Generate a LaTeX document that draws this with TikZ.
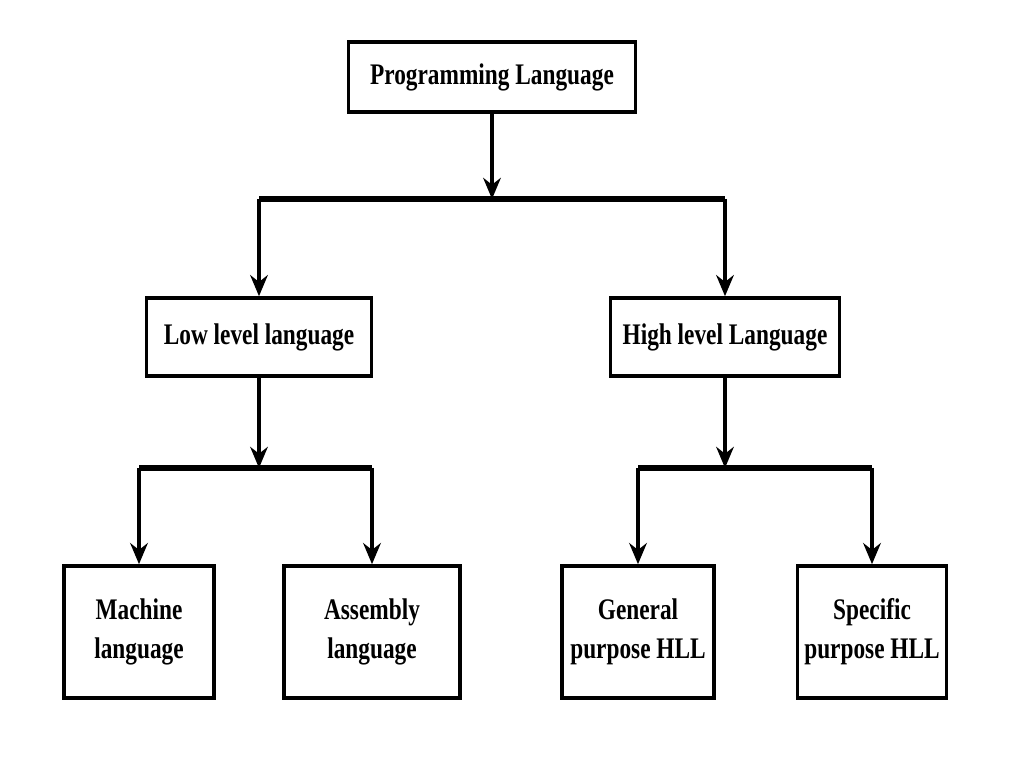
\documentclass[tikz,border=0pt]{standalone}
\usepackage{fontspec}
\setmainfont[FakeStretch=0.78]{Liberation Serif}
\usetikzlibrary{arrows.meta}
\tikzset{
  langbox/.style={draw,line width=1pt,align=center,inner sep=2pt,
    font=\bfseries\fontsize{8.5}{11}\selectfont},
  link/.style={line width=1.2pt,-{Stealth[length=6pt,width=5pt]}},
  bar/.style={line width=1.8pt}
}
\begin{document}
\begin{tikzpicture}[x=0.01cm,y=-0.01cm]
\useasboundingbox (0,0) rectangle (1024,768);
\node[langbox,minimum width=2.87cm,minimum height=0.7cm](pl) at (492,77) {Programming Language};
\node[langbox,minimum width=2.25cm,minimum height=0.78cm](low) at (259,337) {Low level language};
\node[langbox,minimum width=2.29cm,minimum height=0.78cm](high) at (725,337) {High level Language};
\node[langbox,minimum width=1.5cm,minimum height=1.32cm](mach) at (139,632) {Machine\\language};
\node[langbox,minimum width=1.76cm,minimum height=1.32cm](asm) at (372,632) {Assembly\\language};
\node[langbox,minimum width=1.52cm,minimum height=1.32cm](gen) at (638,632) {General\\purpose HLL};
\node[langbox,minimum width=1.47cm,minimum height=1.32cm](spec) at (872,632) {Specific\\purpose HLL};
% top level
\coordinate (j1) at (492,199);
\draw[link] (pl.south) -- (j1);
\draw[bar] (low.north |- j1) -- (high.north |- j1);
\draw[link] (low.north |- j1) -- (low.north);
\draw[link] (high.north |- j1) -- (high.north);
% low level
\coordinate (j2) at (259,468);
\draw[link] (low.south) -- (j2);
\draw[bar] (mach.north |- j2) -- (asm.north |- j2);
\draw[link] (mach.north |- j2) -- (mach.north);
\draw[link] (asm.north |- j2) -- (asm.north);
% high level
\coordinate (j3) at (725,468);
\draw[link] (high.south) -- (j3);
\draw[bar] (gen.north |- j3) -- (spec.north |- j3);
\draw[link] (gen.north |- j3) -- (gen.north);
\draw[link] (spec.north |- j3) -- (spec.north);
\end{tikzpicture}
\end{document}
